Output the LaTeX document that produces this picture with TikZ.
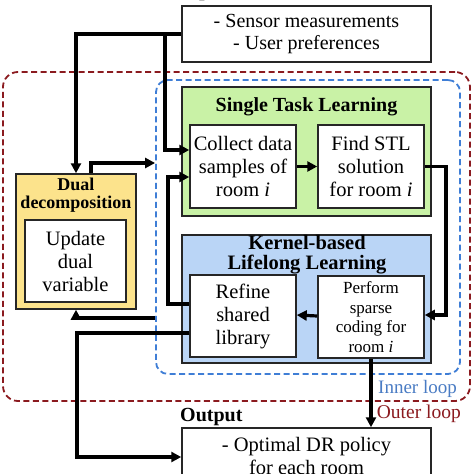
\documentclass[tikz,border=0pt]{standalone}
\usepackage{fontspec}
\setmainfont{Liberation Serif}
\usetikzlibrary{arrows.meta}
\definecolor{stlgreen}{HTML}{C9F2A6}
\definecolor{klblue}{HTML}{BAD5F6}
\definecolor{dualyel}{HTML}{FCE38C}
\definecolor{outred}{HTML}{8B1A1F}
\definecolor{inblue}{HTML}{3F7ED6}
\definecolor{inbluetext}{HTML}{4A7CC4}
\tikzset{
  box/.style={draw=black!85, line width=1.5pt, fill=white, align=center, inner sep=0pt},
  group/.style={draw=black!85, line width=1.5pt, inner sep=0pt},
  conn/.style={line width=3.2pt, line join=miter},
  arr/.style={conn, -{Triangle[length=10pt,width=10pt]}},
  loopline/.style={dash pattern=on 6pt off 3.5pt, line width=1.8pt, inner sep=0pt},
  boxtext/.style={font=\fontsize{20.5}{23}\selectfont},
  smalltext/.style={font=\fontsize{17}{19.5}\selectfont},
  titletext/.style={font=\fontsize{20}{19}\selectfont\bfseries, align=center, inner sep=0pt},
}
\begin{document}
\begin{tikzpicture}[x=1pt,y=-1pt]
\useasboundingbox (0,0) rectangle (474,474);
\fill[white] (0,0) rectangle (474,474);
% loops
\node[loopline, draw=outred, rounded corners=15pt, minimum width=467pt, minimum height=329pt] (outerloop) at (236.5,236.5) {};
\node[loopline, draw=inblue, rounded corners=12pt, minimum width=304pt, minimum height=294pt] (innerloop) at (308,227) {};
\node[text=inbluetext, anchor=east, font=\fontsize{19}{19}\selectfont, inner sep=0pt] (innerlab) at (457,389) {Inner loop};
\node[text=outred, anchor=east, font=\fontsize{19.5}{19}\selectfont, inner sep=0pt] (outerlab) at (461,414) {Outer loop};
% input
\node[titletext, anchor=west] (inlab) at (180,-8) {Input};
\node[box, font=\fontsize{20}{22}\selectfont, minimum width=249pt, minimum height=56pt] (input) at (306.5,34) {- Sensor measurements\\- User preferences};
% STL group
\node[group, fill=stlgreen, minimum width=249pt, minimum height=129pt] (stl) at (306.5,151.5) {};
\node[titletext] (stltitle) at (306.5,107) {Single Task Learning};
\node[box, boxtext, minimum width=106pt, minimum height=83pt] (collect) at (243,166.5) {Collect data\\samples of\\room \textit{i}};
\node[box, boxtext, minimum width=106pt, minimum height=83pt] (find) at (371,166.5) {Find STL\\solution\\for room \textit{i}};
% KL group
\node[group, fill=klblue, minimum width=249pt, minimum height=128pt] (kl) at (306.5,299) {};
\node[titletext, font=\fontsize{20.5}{20}\selectfont\bfseries] (kltitle) at (307,255) {Kernel-based\\Lifelong Learning};
\node[box, boxtext, minimum width=106pt, minimum height=82pt] (refine) at (243,316) {Refine\\shared\\library};
\node[box, smalltext, minimum width=106pt, minimum height=82pt] (perform) at (371,317) {Perform\\sparse\\coding for\\room \textit{i}};
% dual
\node[group, fill=dualyel, minimum width=120pt, minimum height=135pt] (dual) at (76,241.5) {};
\node[titletext, font=\fontsize{18}{18}\selectfont\bfseries] (dualtitle) at (76,195) {Dual\\decomposition};
\node[box, boxtext, minimum width=101pt, minimum height=82pt] (update) at (75.5,261) {Update\\dual\\variable};
% output
\node[titletext, anchor=west] (outlab) at (180,417) {Output};
\node[box, minimum width=249pt, minimum height=72pt] (output) at (306.5,464) {};
\node[boxtext, align=center, anchor=north, inner sep=0pt] (outtext) at (306.5,437) {- Optimal DR policy\\for each room};
% connectors
\coordinate (j1) at (165,34);
\draw[arr] (input.west) -| (dual.north);
\draw[arr] (j1) |- ([yshift=16.5pt]collect.west);
\draw[arr] ([xshift=15pt]dual.north) |- (innerloop.west |- 0,163);
\draw[arr] ([yshift=12pt]refine.west) -- (168,304) |- ([yshift=-10.5pt]collect.west);
\draw[arr] (collect.east) -- (find.west);
\draw[arr] (find.east) -- (446,166.5) |- ([yshift=2pt]perform.east);
\draw[arr] ([yshift=1pt]perform.west) -- ([yshift=1pt]refine.east);
\draw[arr] (innerloop.west |- 0,318) -| (dual.south);
\draw[arr] ([yshift=-17pt]refine.west) -- (77,333) |- (output.west |- 0,457);
\draw[arr] (perform.south) -- (perform.south |- output.north);
\end{tikzpicture}
\end{document}
